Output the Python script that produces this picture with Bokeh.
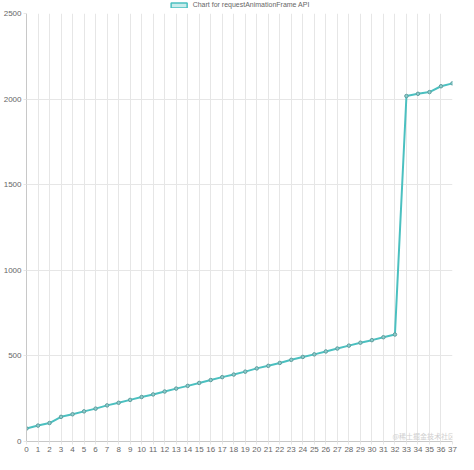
from bokeh.plotting import figure
from bokeh.layouts import column
from bokeh.models import (ColumnDataSource, FixedTicker, Legend, LegendItem, Label, Range1d)
from bokeh.embed import file_html
from bokeh.resources import INLINE

labels = [str(i) for i in range(38)]
values = [76, 93, 108, 144, 159, 176, 192, 211, 226, 243, 260, 275, 292, 309, 325, 342,
          359, 376, 391, 408, 427, 442, 459, 477, 494, 509, 526, 543, 560, 577, 592, 609,
          625, 2018, 2031, 2041, 2075, 2092]
y_ticks = [0, 500, 1000, 1500, 2000, 2500]
series_name = "Chart for requestAnimationFrame API"

xs = list(range(len(values)))
src = ColumnDataSource(dict(x=xs, y=values))

LINE = "#4bc0c0"
GRID = "#e6e6e6"
TXT = "#666666"
FONT = "Liberation Sans"

W = 458
LH = 9
H = 454 - LH
TOP, BOTTOM, LEFT, RIGHT = 4, 10, 18, 6
FW = W - LEFT - RIGHT

# ---- legend strip ----
lg = figure(width=W, height=LH, output_backend="svg", toolbar_location=None,
            x_range=Range1d(0, 1), y_range=Range1d(0, 1),
            min_border_left=0, min_border_right=0, min_border_top=0, min_border_bottom=0)
lg.axis.visible = False
lg.grid.visible = False
lg.outline_line_color = None
proxy = lg.quad(left=[-10], right=[-9], top=[-10], bottom=[-20], fill_color=LINE, fill_alpha=0.3,
                line_color=LINE, line_width=1.5)
legend = Legend(items=[LegendItem(label=series_name, renderers=[proxy])],
                orientation="horizontal", location="center",
                label_text_font_size="7px", label_text_color=TXT, label_text_font=FONT,
                glyph_width=20, glyph_height=6, padding=0, margin=0, spacing=0,
                label_standoff=4, label_height=8,
                border_line_color=None, background_fill_alpha=0)
lg.add_layout(legend)

# ---- main chart ----
p = figure(width=W, height=H, output_backend="svg", toolbar_location=None,
           x_range=Range1d(0, 37), y_range=Range1d(0, 2500),
           min_border_left=LEFT, min_border_right=RIGHT, min_border_top=TOP, min_border_bottom=BOTTOM)
p.outline_line_color = None
p.background_fill_color = "white"

p.line("x", "y", source=src, line_color=LINE, line_width=2)
p.scatter("x", "y", source=src, size=3.5, fill_color="#8ccccc", line_color="#5f9e9e", line_width=1)

p.xaxis.ticker = FixedTicker(ticks=xs)
p.yaxis.ticker = FixedTicker(ticks=y_ticks)

for ax in (p.xaxis[0], p.yaxis[0]):
    ax.axis_line_color = "#c8c8c8"
    ax.major_tick_line_color = GRID
    ax.major_tick_out = 3
    ax.major_tick_in = 0
    ax.minor_tick_line_color = None
    ax.major_label_text_font_size = "8px"
    ax.major_label_text_color = TXT
    ax.major_label_text_font = FONT
    ax.major_label_standoff = 2

p.xgrid.grid_line_color = GRID
p.ygrid.grid_line_color = GRID
p.xgrid.ticker = FixedTicker(ticks=xs)
p.ygrid.ticker = FixedTicker(ticks=y_ticks)

wm = Label(x=FW - 68, y=1, x_units="screen", y_units="screen", text="@稀土掘金技术社区",
           text_font="Noto Sans CJK SC", text_font_size="7px", text_color="#cfcfcf",
           text_align="left")
p.add_layout(wm)

layout = column(lg, p, spacing=0)
open("out.html", "w").write(file_html(layout, INLINE))
